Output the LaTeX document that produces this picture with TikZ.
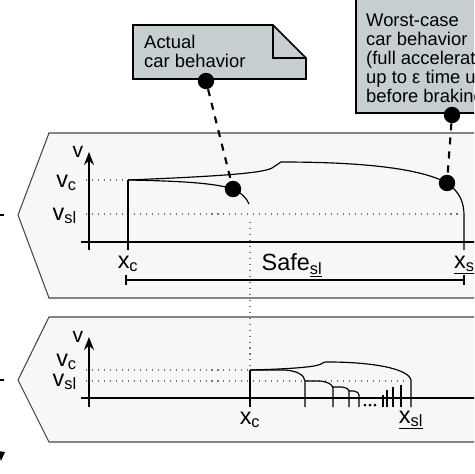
\documentclass[tikz,border=0pt]{standalone}
\usepackage{fontspec}
\setmainfont{Liberation Sans}
\usetikzlibrary{arrows.meta, positioning, calc}

\definecolor{tagfill}{RGB}{198,206,210}
\definecolor{panelfill}{RGB}{247,247,247}
\definecolor{panelline}{RGB}{70,70,70}

\tikzset{
  panel/.style={fill=panelfill, draw=panelline, line width=0.9pt},
  tagbox/.style={fill=tagfill, draw=black, line width=1.3pt},
  tagtext/.style={anchor=north west, inner sep=0pt, align=left, font=\fontsize{15.7}{16.2}\selectfont},
  axis/.style={line width=1.7pt},
  vaxis/.style={line width=1.7pt, -{Stealth[length=11pt,width=8.5pt]}},
  curve/.style={line width=1pt},
  guide/.style={black!55, line width=1pt, dash pattern=on 0.9pt off 4.2pt},
  leader/.style={line width=1.8pt, dash pattern=on 6pt off 6pt},
  dot/.style={circle, fill=black, inner sep=0pt, minimum size=14pt},
  lbl/.style={inner sep=0pt, font=\fontsize{20}{20}\selectfont},
  vlbl/.style={inner sep=0pt, font=\fontsize{18}{18}\selectfont},
}

\begin{document}
\begin{tikzpicture}[x=0.03cm, y=-0.03cm]

    \useasboundingbox (0,0) rectangle (474,474);
    \clip (0,0) rectangle (474,474);

    % Marks cut off at the left edge
    \draw[line width=0.9pt] (0,215) -- (4,215);
    \draw[line width=0.9pt] (0,380) -- (4,380);
    \fill (-2,451) -- (5,452) -- (1,461) -- cycle;

    % Panels
    \draw[panel] (480,133) -- (49,133) -- (18,215) -- (49,298) -- (480,298); % upper panel
    \draw[panel] (480,317) -- (49,317) -- (18,380) -- (49,442) -- (480,442); % lower panel

    % Callouts
    \draw[tagbox] (133,25) -- (273,25) -- (306,58) -- (306,79) -- (133,79) -- cycle; % actual
    \draw[line width=1.3pt] (273,25) -- (273,58) -- (306,58); % folded corner
    \node[tagtext] (actualtxt) at (144,35) {Actual\\car behavior};
    \draw[tagbox] (356,-10) rectangle (490,113); % worst case
    \node[tagtext] (worsttxt) at (366,14) {Worst-case\\car behavior\\(full acceleration\\up to ε time units\\before braking)};

    % ---------- upper panel ----------
    % Dotted guides
    \draw[guide] (86,180) -- (128,180); % v_c
    \draw[guide] (86,214) -- (462,214); % v_sl
    \draw[guide] (250,222) -- (250,367); % down to lower x_c

    % Axes
    \draw[axis] (81,242) -- (480,242); % x axis
    \draw[vaxis] (89,250) -- (89,152); % v axis
    \node[vlbl] (v1) at (78,152) {v};
    \node[lbl, anchor=east] (vc1) at (77,183) {v\textsubscript{c}};
    \node[lbl, anchor=east] (vsl1) at (77,216) {v\textsubscript{sl}};

    % Curves
    \draw[curve] (128,250) -- (128,180); % start at x_c
    \draw[curve] (128,180) .. controls (180,181) and (215,183) .. (233,189)
                 .. controls (242,193) and (247,199) .. (249,204); % actual
    \draw[curve] (128,180) .. controls (200,177) and (262,174) .. (272,168)
                 .. controls (276,165) .. (281,162)
                 .. controls (360,162) and (420,168) .. (447,183)
                 .. controls (460,192) and (464,203) .. (464,215) -- (464,250); % worst case

    % Labels under the axis
    \node[lbl] (xc1) at (128,264) {x\textsubscript{c}};
    \node[lbl] (safe) at (292,265) {Safe\textsubscript{\underline{sl}}};
    \node[lbl, anchor=west] (xsl1) at (454,265) {\underline{x\textsubscript{sl}}};
    \draw[axis] (126,280) -- (464,280); % safe range
    \draw[line width=0.9pt] (126,275) -- (126,285);
    \draw[line width=0.9pt] (464,275) -- (464,285);

    % Leader lines
    \node[dot] (actualtag) at (206,81) {};
    \node[dot] (actualdot) at (233,189) {};
    \node[dot] (worsttag) at (452,115) {};
    \node[dot] (worstdot) at (447,183) {};
    \draw[leader] (actualtag) -- (actualdot);
    \draw[leader] (worsttag) -- (worstdot);

    % ---------- lower panel ----------
    \draw[guide] (86,370) -- (250,370); % v_c
    \draw[guide] (86,381) -- (407,381); % v_sl

    \draw[axis] (81,398) -- (480,398); % x axis
    \draw[vaxis] (89,407) -- (89,337); % v axis
    \node[vlbl] (v2) at (78,337) {v};
    \node[lbl, anchor=east] (vc2) at (77,362) {v\textsubscript{c}};
    \node[lbl, anchor=east] (vsl2) at (77,382) {v\textsubscript{sl}};

    \draw[curve] (250,407) -- (250,370);
    \draw[curve] (250,370) .. controls (290,369) and (316,367) .. (321,364)
                 .. controls (324,362) .. (328,362)
                 .. controls (370,362) and (408,368) .. (411,380) -- (411,407); % worst case
    \draw[curve] (250,370) -- (285,370) .. controls (298,371) and (304,375) .. (305,381) -- (305,407); % step 1
    \draw[curve] (305,381) -- (320,381) .. controls (328,382) and (332,384) .. (333,388) -- (333,407); % step 2
    \draw[curve] (333,387) -- (342,387) .. controls (347,388) and (349,389) .. (349,391) -- (349,407); % step 3
    \draw[curve] (349,391) -- (354,391) .. controls (357,391.5) and (359,393) .. (359,395) -- (359,407); % step 4
    \foreach \x in {365,370,375} \fill (\x,405) circle (1.5); % dots
    \foreach \x/\y in {383/395, 387/390, 393/387, 401/385}
        \draw[curve] (\x,\y) -- (\x,407); % short steps

    \node[lbl] (xc2) at (250,420) {x\textsubscript{c}};
    \node[lbl] (xsl2) at (411,420) {\underline{x\textsubscript{sl}}};

\end{tikzpicture}
\end{document}
